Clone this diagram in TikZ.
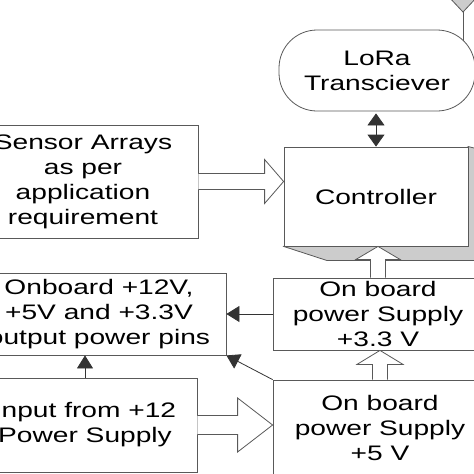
\documentclass[tikz,border=0pt]{standalone}
\usepackage{fontspec}
\setmainfont{Liberation Sans}[FakeStretch=1.34]
\usetikzlibrary{arrows.meta,calc,backgrounds}

\tikzset{
  blk/.style={draw=black!65, line width=0.8pt, fill=white, inner sep=0pt,
    align=center, font=\fontsize{21}{25}\selectfont},
  hollow/.style={draw=black!65, line width=0.8pt, fill=white},
  tip/.style={draw=black!80, line width=0.8pt, -{Triangle[width=16pt,length=13pt]}},
}

% wide open arrows: from, to, half shaft, half head, head length
\newcommand{\fatright}[5]{\draw[hollow] let \p1=(#1), \p2=(#2) in
  (\x1,\y1-#3) -- (\x2-#5,\y1-#3) -- (\x2-#5,\y1-#4) -- (\x2,\y1)
  -- (\x2-#5,\y1+#4) -- (\x2-#5,\y1+#3) -- (\x1,\y1+#3);}
\newcommand{\fatup}[5]{\draw[hollow] let \p1=(#1), \p2=(#2) in
  (\x1-#3,\y1) -- (\x1-#3,\y2-#5) -- (\x1-#4,\y2-#5) -- (\x1,\y2)
  -- (\x1+#4,\y2-#5) -- (\x1+#3,\y2-#5) -- (\x1+#3,\y1);}

\begin{document}
\begin{tikzpicture}[x=1pt, y=-1pt]
    \useasboundingbox (0,0) rectangle (474,474);
    \clip (0,0) rectangle (474,474);

    \node[blk, rounded corners=38pt, minimum width=196pt, minimum height=81pt] (lora) at (377,70.5) {LoRa\\Transciever};
    \node[blk, minimum width=184pt, minimum height=99pt] (ctrl) at (376,196.5) {Controller};
    \node[blk, minimum width=230pt, minimum height=113pt] (sensor) at (83,181.5) {Sensor Arrays\\as per\\application\\requirement};
    \node[blk, minimum width=254pt, minimum height=82pt] (outs) at (99,314) {Onboard +12V,\\+5V and +3.3V\\output power pins};
    \node[blk, minimum width=210pt, minimum height=72pt] (p33) at (378,314) {On board\\power Supply\\+3.3 V};
    \node[blk, minimum width=214pt, minimum height=96pt] (p5) at (380,428) {On board\\power Supply\\+5 V};
    \node[blk, minimum width=224pt, minimum height=94pt] (inp) at (85,425) {Input from +12\\Power Supply};

    % antenna and box shadow
    \coordinate (ant) at (463,12);
    \draw[hollow, fill=black!20] (ant) -- ++(-15,-16) -- ++(30,0) -- cycle;
    \begin{scope}[on background layer]
        \draw[black!65, line width=0.8pt] (ant) -- (ant |- lora.center);
        \draw[black!65, line width=0.8pt, fill=black!20] (ctrl.south west) -- ++(43,14)
            -- ($(ctrl.south east)+(12,14)$) -- ($(ctrl.north east)+(12,3)$) -- (ctrl.north east) -- cycle;
    \end{scope}

    \fatright{sensor.east}{ctrl.west}{8pt}{22pt}{19pt}
    \fatright{inp.east}{p5.west}{9.5pt}{27pt}{35pt}
    \fatup{p5.north}{p33.south}{7.5pt}{23pt}{14pt}
    \fatup{p33.north}{ctrl.south}{7.5pt}{22pt}{13pt}

    \draw[tip, {Triangle[width=17pt,length=12pt]}-{Triangle[width=17pt,length=12pt]}, shorten <=2pt] (ctrl.north |- lora.south) -- (ctrl.north);
    \draw[tip] (p33.west) -- (p33.west -| outs.east);
    \draw[tip] (p5.north west) -- (outs.south east);
    \draw[tip] (inp.north) -- (inp.north |- outs.south);
\end{tikzpicture}
\end{document}
